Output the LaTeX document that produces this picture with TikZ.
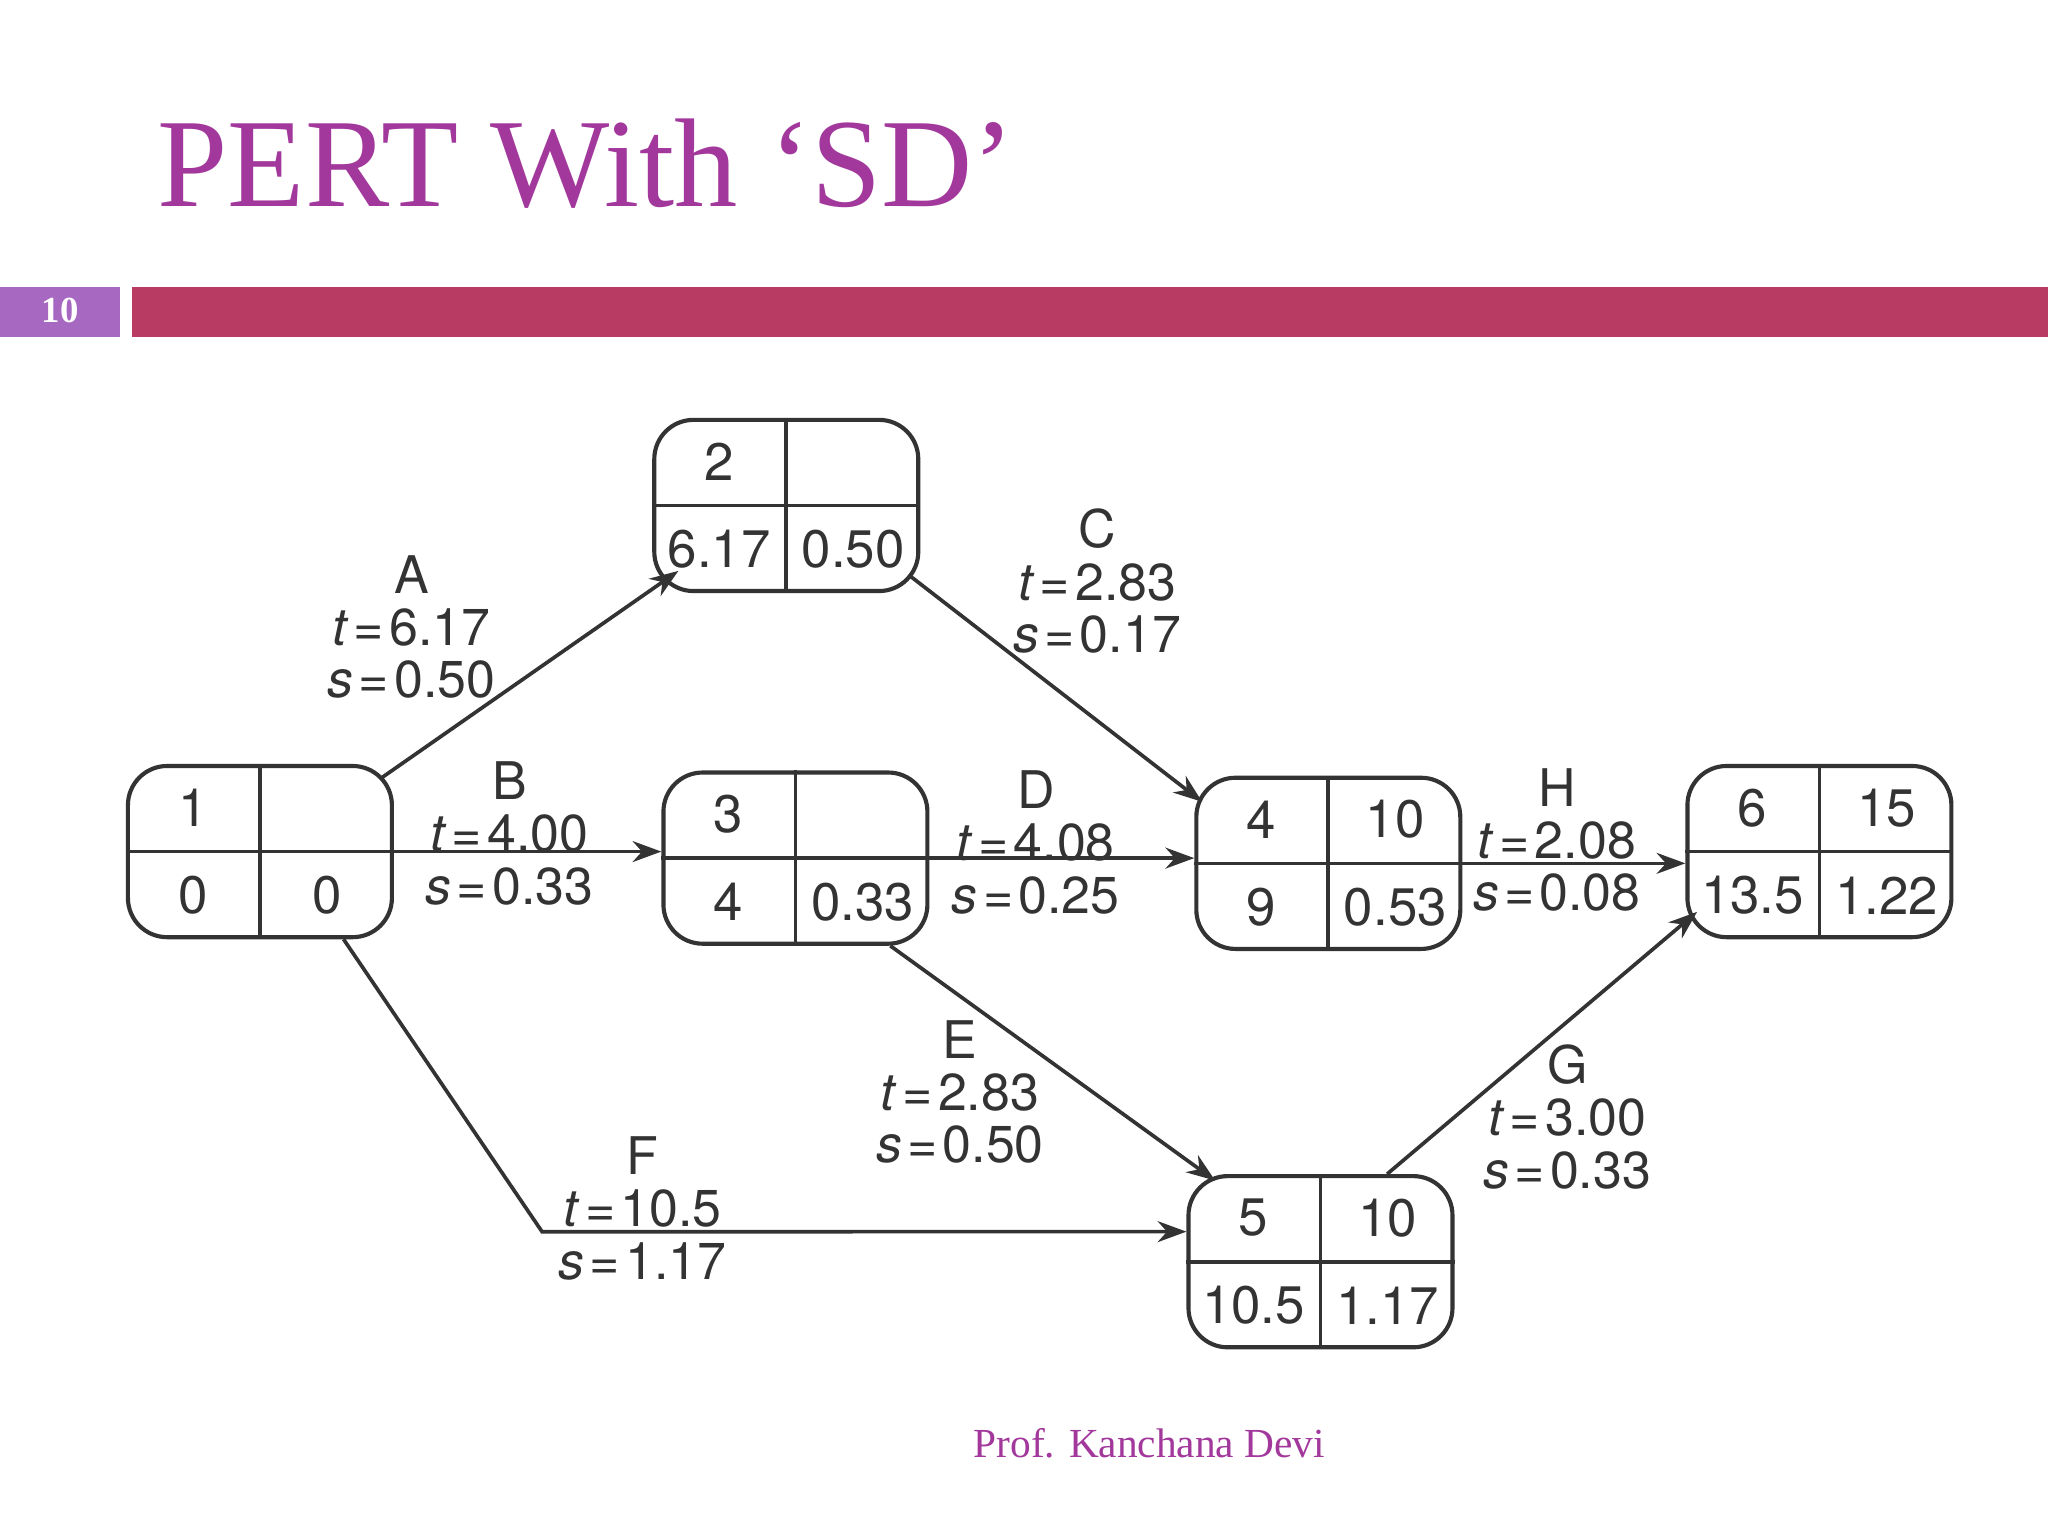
\documentclass[tikz,border=0pt]{standalone}
\usepackage{fontspec}
\setmainfont{TeX Gyre Heros}
\newfontfamily\seriffont{Liberation Serif}
\usetikzlibrary{calc,arrows.meta}
\definecolor{ttl}{HTML}{A2389C}
\definecolor{barc}{HTML}{B73B62}
\definecolor{numc}{HTML}{A768C2}
\definecolor{ln}{HTML}{333333}
\tikzset{
 pbox/.style={draw=ln,line width=0.9pt,rounded corners=0.3cm,minimum height=1.31cm,inner sep=0},
 arr/.style={draw=ln,line width=0.8pt,-{Stealth[length=0.22cm,width=0.16cm]}},
 lbl/.style={align=center,font=\fontsize{11.3}{11.4}\selectfont,text=ln,inner sep=0},
 cell/.style={font=\fontsize{11.5}{12}\selectfont,text=ln,inner sep=0}
}
\newcommand\eqs{\hspace{0.1em}=\hspace{0.1em}}
\newcommand\pertnode[7]{%
 \node[pbox,minimum width=2.02cm] (#1) at (#2) {};
 \draw[ln,line width=0.8pt] (#1.north)--(#1.south) (#1.west)--(#1.east);
 \node[cell] at ($(#1.center)!0.5!(#1.north west)$) {#3};
 \node[cell] at ($(#1.center)!0.5!(#1.north east)$) {#4};
 \node[cell] at ($(#1.center)!0.5!(#1.south west)$) {#5};
 \node[cell] at ($(#1.center)!0.5!(#1.south east)$) {#6};}
\begin{document}
\begin{tikzpicture}[x=0.01cm,y=-0.01cm]
\useasboundingbox (0,0) rectangle (1568,1176);
\fill[white] (0,0) rectangle (1568,1176);
\node[anchor=base west,text=ttl,font=\seriffont\fontsize{27.5}{30}\selectfont,inner sep=0] (title) at (120,158) {PERT With ‘SD’};
\fill[numc] (0,220) rectangle (92,258);
\node[text=white,font=\seriffont\bfseries\fontsize{8}{9}\selectfont] (pg) at (46,238) {10};
\fill[barc] (101,220) rectangle (1568,258);
\pertnode{n1}{199,652}{1}{}{0}{0}{}
\pertnode{n2}{602,387}{2}{}{6.17}{0.50}{}
\pertnode{n3}{609,657}{3}{}{4}{0.33}{}
\pertnode{n4}{1017,661}{4}{10}{9}{0.53}{}
\pertnode{n5}{1011,966}{5}{10}{10.5}{1.17}{}
\pertnode{n6}{1393,652}{6}{15}{13.5}{1.22}{}
\draw[arr] ([xshift=-0.1cm,yshift=-0.11cm]n1.north east) -- ([xshift=0.2cm,yshift=0.17cm]n2.south west);
\draw[arr] (n1.east) -- (n1.east -| n3.west);
\draw[arr] ([xshift=-0.09cm,yshift=0.14cm]n2.south east) -- ([xshift=0.06cm,yshift=-0.2cm]n4.north west);
\draw[arr] (n3.east) -- (n3.east -| n4.west);
\draw[arr] (n4.east) -- (n4.east -| n6.west);
\draw[arr] ([xshift=-0.3cm]n3.south east) -- ([xshift=0.22cm,yshift=-0.05cm]n5.north west);
\coordinate (fc) at (415,943);
\draw[arr] ([xshift=0.64cm]n1.south) -- (fc) -- ([yshift=0.23cm]n5.west);
\draw[arr] ([xshift=0.51cm]n5.north) -- ([xshift=0.09cm,yshift=0.21cm]n6.south west);
\node[lbl] (la) at (315,480) {A\\\textit{t}\eqs6.17\\\textit{s}\eqs0.50};
\node[lbl] (lb) at (390,638) {B\\\textit{t}\eqs4.00\\\textit{s}\eqs0.33};
\node[lbl] (lc) at (840,445) {C\\\textit{t}\eqs2.83\\\textit{s}\eqs0.17};
\node[lbl] (ld) at (793,645) {D\\\textit{t}\eqs4.08\\\textit{s}\eqs0.25};
\node[lbl] (lh) at (1192,643) {H\\\textit{t}\eqs2.08\\\textit{s}\eqs0.08};
\node[lbl] (le) at (735,836) {E\\\textit{t}\eqs2.83\\\textit{s}\eqs0.50};
\node[lbl] (lf) at (492,925) {F\\\textit{t}\eqs10.5\\\textit{s}\eqs1.17};
\node[lbl] (lg) at (1200,855) {G\\\textit{t}\eqs3.00\\\textit{s}\eqs0.33};
\node[text=ttl,font=\seriffont\fontsize{9}{10}\selectfont] (foot) at (880,1105) {Prof. Kanchana Devi};
\end{tikzpicture}
\end{document}
